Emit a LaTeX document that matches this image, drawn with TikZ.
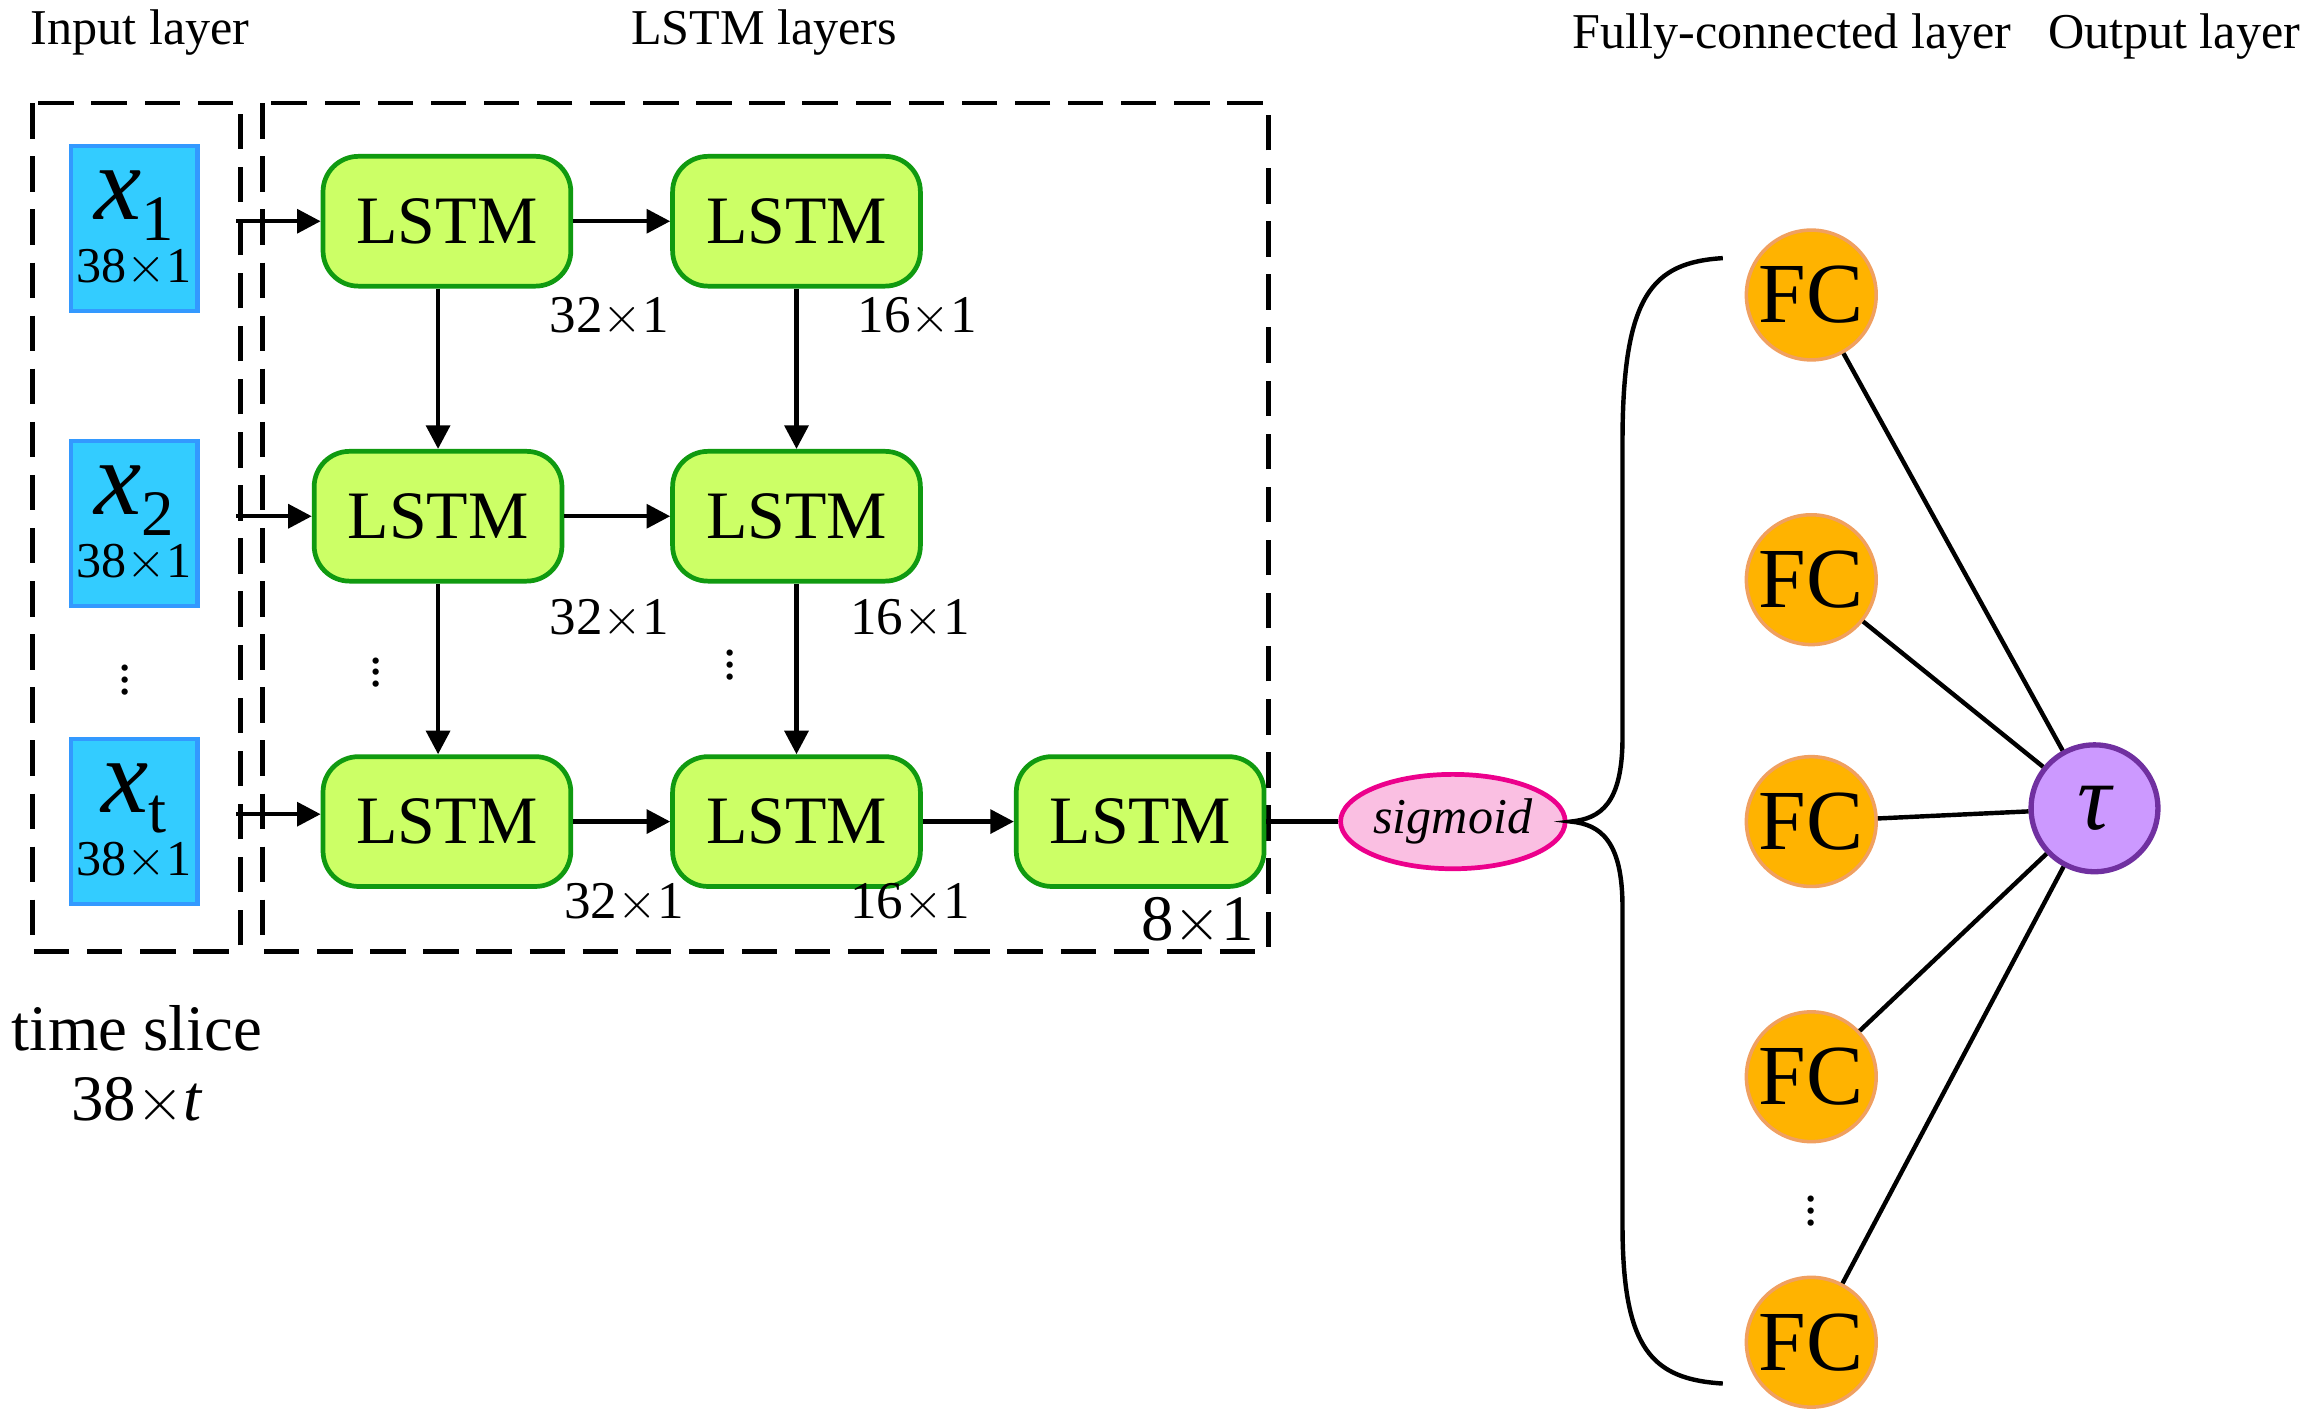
\documentclass[tikz,border=0pt]{standalone}
\usepackage{fontspec}
\setmainfont{Liberation Serif}
\usetikzlibrary{arrows.meta,shapes.geometric}
\definecolor{inf}{HTML}{33CCFF}\definecolor{inb}{HTML}{3399FF}
\definecolor{lf}{HTML}{CCFF66}\definecolor{lb}{HTML}{109A10}
\definecolor{ff}{HTML}{FFB300}\definecolor{fb}{HTML}{F0A060}
\definecolor{tf}{HTML}{CC99FF}\definecolor{tb}{HTML}{7030A0}
\newcommand{\xsym}[1]{{\fontsize{36}{36}\selectfont\itshape x}\raisebox{-7pt}{\fontsize{22}{22}\selectfont #1}}
\begin{document}
\begin{tikzpicture}[x=0.5pt,y=-0.5pt,
 inp/.style={draw=inb,fill=inf,line width=1.5pt,minimum width=43pt,minimum height=56pt,inner sep=0pt,align=center},
 lstm/.style={draw=lb,fill=lf,line width=1.6pt,rounded corners=12pt,minimum width=84pt,minimum height=44pt,font=\fontsize{23}{23}\selectfont},
 fc/.style={circle,draw=fb,fill=ff,line width=1.2pt,minimum size=44pt,inner sep=0pt,font=\fontsize{29}{29}\selectfont},
 dbox/.style={dashed,line width=1.5pt,dash pattern=on 12pt off 6pt},
 arr/.style={line width=1.5pt,-{Triangle[length=8pt,width=8pt]}},
 dim/.style={font=\fontsize{18}{18}\selectfont},
 ttl/.style={font=\fontsize{17}{17}\selectfont},
 conn/.style={line width=1.5pt}]
\useasboundingbox (0,0) rectangle (1560,962);
\draw[dbox] (22,70) rectangle (163,645);
\draw[dbox] (178,70) rectangle (860,645);
\node[ttl] (t1) at (95,22) {Input layer};
\node[ttl] (t2) at (518,22) {LSTM layers};
\node[ttl] (t3) at (1215,25) {Fully-connected layer};
\node[ttl] (t4) at (1474,25) {Output layer};
\foreach \n/\s/\y in {a/1/155,b/2/355,c/t/557}{
 \node[inp] (x\n) at (91,\y) {\xsym{\s}\\[2pt]\fontsize{17}{17}\selectfont 38$\times$1};
 \coordinate (s\n) at (160,\y-5);}
\node[lstm] (l11) at (303,150) {LSTM};
\node[lstm] (l12) at (540,150) {LSTM};
\node[lstm] (l21) at (297,350) {LSTM};
\node[lstm] (l22) at (540,350) {LSTM};
\node[lstm] (l31) at (303,557) {LSTM};
\node[lstm] (l32) at (540,557) {LSTM};
\node[lstm] (l33) at (773,557) {LSTM};
\draw[arr] (sa) -- (l11.west|-sa);
\draw[arr] (sb) -- (l21.west|-sb);
\draw[arr] (sc) -- (l31.west|-sc);
\draw[arr] (l11) -- (l12);
\draw[arr] (l21) -- (l22);
\draw[arr] (l31) -- (l32);
\draw[arr] (l32) -- (l33);
\draw[arr] (l11.south-|l21) -- (l21);
\draw[arr] (l12) -- (l22);
\draw[arr] (l21) -- (l31.north-|l21);
\draw[arr] (l22) -- (l32);
\node[dim] (d1) at (413,215) {32$\times$1};
\node[dim] (d2) at (622,215) {16$\times$1};
\node[dim] (d3) at (413,420) {32$\times$1};
\node[dim] (d4) at (617,420) {16$\times$1};
\node[dim] (d5) at (423,612) {32$\times$1};
\node[dim] (d6) at (617,612) {16$\times$1};
\node[font=\fontsize{22}{22}\selectfont] (d7) at (812,625) {8$\times$1};
\foreach \x/\y/\n in {85/455/p1,255/450/p2,495/445/p3,1228/815/p4}
 \node[font=\fontsize{18}{18}\selectfont] (\n) at (\x,\y) {$\vdots$};
\node[font=\fontsize{22}{22}\selectfont] (ts) at (93,697) {time slice};
\node[font=\fontsize{22}{22}\selectfont] (ts2) at (93,747) {38$\times$\textit{t}};
\node[ellipse,draw=magenta,fill=magenta!25,line width=1.6pt,minimum width=74pt,minimum height=32pt,inner sep=0pt,font=\fontsize{17}{17}\selectfont\itshape] (sg) at (985,557) {sigmoid};
\draw[conn] (l33) -- (sg);
\draw[conn] (1168,175) .. controls (1120,178) and (1100,200) .. (1100,300) -- (1100,500) .. controls (1100,545) and (1085,555) .. (1065,557)
 .. controls (1085,559) and (1100,570) .. (1100,615) -- (1100,830) .. controls (1100,915) and (1120,935) .. (1168,938);
\node[fc] (f1) at (1228,200) {FC};
\node[fc] (f2) at (1228,393) {FC};
\node[fc] (f3) at (1228,557) {FC};
\node[fc] (f4) at (1228,730) {FC};
\node[fc] (f5) at (1228,910) {FC};
\node[circle,draw=tb,fill=tf,line width=1.8pt,minimum size=43pt,inner sep=0pt,font=\fontsize{32}{32}\selectfont\itshape] (tau) at (1420,548) {τ};
\foreach \f in {f1,f2,f3,f4,f5} \draw[conn] (\f) -- (tau);
\end{tikzpicture}
\end{document}
